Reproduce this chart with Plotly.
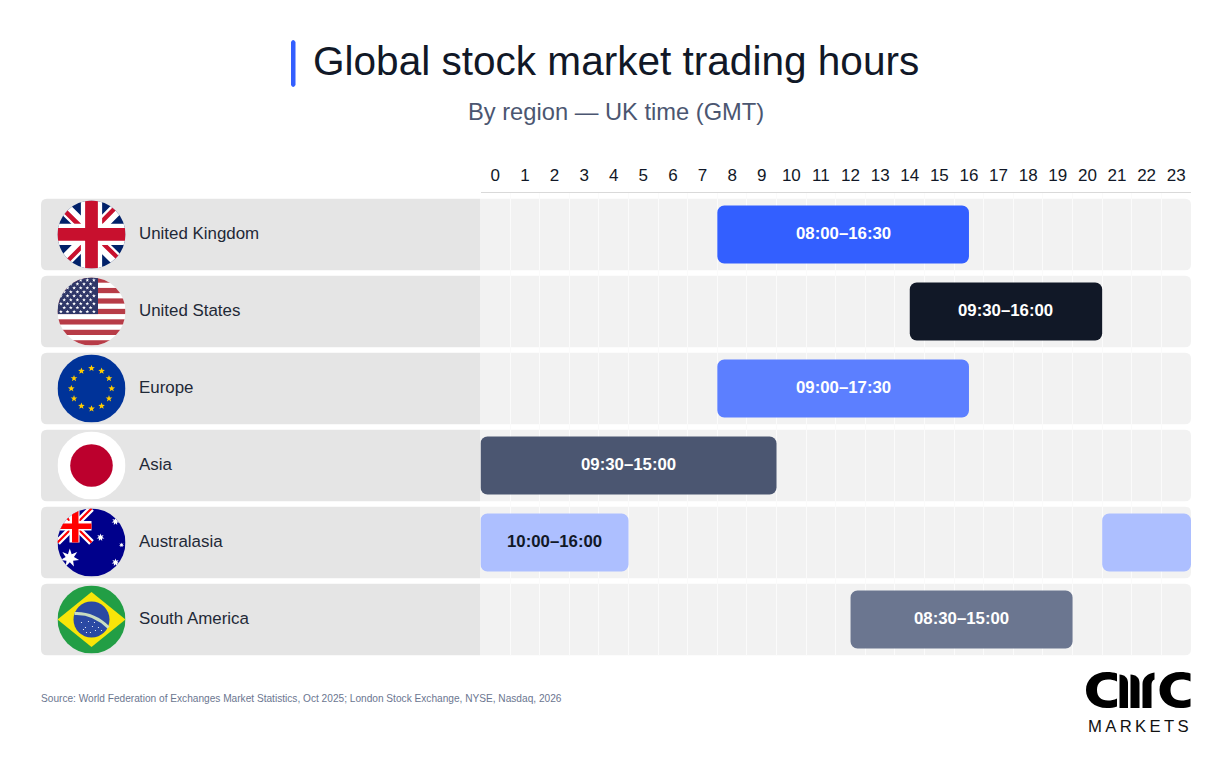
import base64
import math
import plotly.graph_objects as go

W, H = 1232, 774
FONT = "Liberation Sans"

TITLE = "Global stock market trading hours"
SUBTITLE = "By region — UK time (GMT)"
SOURCE = "Source: World Federation of Exchanges Market Statistics, Oct 2025; London Stock Exchange, NYSE, Nasdaq, 2026"

REGIONS = ["United Kingdom", "United States", "Europe", "Asia", "Australasia", "South America"]
HOURS = list(range(24))

# One entry per session, in UK hours. Australasia wraps past midnight, so it has two.
SESSION_REGIONS = ["United Kingdom", "United States", "Europe", "Asia", "Australasia", "Australasia", "South America"]
SESSION_START = [8, 14.5, 8, 0, 0, 21, 12.5]
SESSION_END = [16.5, 21, 16.5, 10, 5, 24, 20]
SESSION_LABELS = ["08:00–16:30", "09:30–16:00", "09:00–17:30", "09:30–15:00", "10:00–16:00", "", "08:30–15:00"]
SESSION_COLORS = ["#335FFF", "#111827", "#5C7FFF", "#4B5671", "#ADBFFF", "#ADBFFF", "#6B7690"]
SESSION_TEXT = ["#FFFFFF", "#FFFFFF", "#FFFFFF", "#FFFFFF", "#111827", "#111827", "#FFFFFF"]


def star(cx, cy, r, points=5, inner=0.42, fill="#fff"):
    pts = []
    for i in range(points * 2):
        rad = r if i % 2 == 0 else r * inner
        a = -math.pi / 2 + i * math.pi / points
        pts.append(f"{cx + rad * math.cos(a):.2f},{cy + rad * math.sin(a):.2f}")
    return f'<polygon points="{" ".join(pts)}" fill="{fill}"/>'


def uk_flag():
    return (
        '<g transform="scale(0.1328125)">'
        '<path fill="#012169" d="M0 0h512v512H0z"/>'
        '<path fill="#FFF" d="M512 0v64L322 256l190 187v69h-67L254 324 68 512H0v-68l186-187L0 74V0h62l192 190L440 0z"/>'
        '<path fill="#C8102E" d="m184 324 11 34L42 512H0v-3zm124-12 54 8 150 147v45zM512 0 320 196l-4-44L466 0zM0 1l193 189-59-8L0 49z"/>'
        '<path fill="#FFF" d="M176 0v512h160V0zM0 176v160h512V176z"/>'
        '<path fill="#C8102E" d="M0 208v96h512v-96zM208 0v512h96V0z"/>'
        '</g>'
    )


def us_flag():
    s = '<rect width="68" height="68" fill="#fff"/>'
    for i in range(7):
        y = i * 10.46
        s += f'<rect x="0" y="{y:.2f}" width="68" height="5.23" fill="#B73C47"/>'
    s += '<rect width="40.5" height="36.6" fill="#2F3768"/>'
    for r in range(9):
        for c in range(6 if r % 2 == 0 else 5):
            cx = 3.4 + c * 6.6 + (0 if r % 2 == 0 else 3.3)
            s += star(cx, 2.6 + r * 3.95, 2.0)
    return s


def eu_flag():
    s = '<rect width="68" height="68" fill="#003399"/>'
    for i in range(12):
        a = i * math.pi / 6
        s += star(34 + 20.2 * math.sin(a), 34 - 20.2 * math.cos(a), 3.5, fill="#FFCC00")
    return s


def jp_flag():
    return '<rect width="68" height="68" fill="#fff"/><circle cx="34" cy="34" r="21.3" fill="#BC002D"/>'


def au_flag():
    s = '<rect width="68" height="68" fill="#00008B"/>'
    s += '<path d="M0 0L34 34M0 34L34 0" stroke="#fff" stroke-width="6.5"/>'
    s += '<path d="M0 0L34 34M0 34L34 0" stroke="#F00" stroke-width="2.2"/>'
    s += '<rect x="12" y="0" width="10" height="34" fill="#fff"/><rect x="0" y="12.5" width="34" height="9.5" fill="#fff"/>'
    s += '<rect x="14.5" y="0" width="6.5" height="34" fill="#F00"/><rect x="0" y="15" width="34" height="5.5" fill="#F00"/>'
    s += star(12.3, 49.5, 9.5, 7, 0.45)
    s += star(43, 29, 4, 7, 0.45)
    s += star(58, 13, 4, 7, 0.45)
    s += star(64, 36.5, 2.6, 7, 0.45)
    s += star(58, 54, 4, 7, 0.45)
    return s


def br_flag():
    s = '<rect width="68" height="68" fill="#229E45"/>'
    s += '<path d="M34 6.5L68 34L34 61.5L0 34Z" fill="#F8E509"/>'
    s += '<circle cx="34" cy="34" r="18" fill="#2B49A3"/>'
    s += '<path d="M17 28Q36 27 51 42" fill="none" stroke="#C9DDC0" stroke-width="3"/>'
    for x, y in [(24, 37), (28, 42), (31, 36), (35, 41), (38, 45), (41, 42), (33, 47), (26, 44), (44, 45), (37, 37), (29, 47)]:
        s += f'<circle cx="{x}" cy="{y}" r="0.6" fill="#fff"/>'
    return s


FLAGS = [uk_flag, us_flag, eu_flag, jp_flag, au_flag, br_flag]


def svg_uri(body, w, h):
    svg = f'<svg xmlns="http://www.w3.org/2000/svg" width="{w}" height="{h}" viewBox="0 0 {w} {h}">{body}</svg>'
    return "data:image/svg+xml;base64," + base64.b64encode(svg.encode()).decode()


def flag_uri(fn):
    body = f'<defs><clipPath id="c"><circle cx="34" cy="34" r="34"/></clipPath></defs><g clip-path="url(#c)">{fn()}</g>'
    return svg_uri(body, 68, 68)


def logo_uri():
    # Wordmark: two heavy Cs with three curved strokes between them
    c = ("M31 1.5C28 0.5 25 0 21 0C8 0 0 8 0 18C0 28 8 36 21 36C25 36 28 35.5 31 34.500L31 26.5"
         "C28 28 25 28.5 22 28.5C15 28.5 11 24.500 11 18C11 11.500 15 7.500 22 7.500C25 7.500 28 8 31 9.500Z")
    body = (
        f'<path d="{c}" fill="#000"/>'
        '<path d="M33.500 2.500C38.500 2.500 42 6 42 11L42 36L33.500 36Z" fill="#000"/>'
        '<path d="M44.500 2.500C50 2.500 53.500 6 53.500 11L53.500 36L44.500 36Z" fill="#000"/>'
        '<path d="M56.500 36L56.500 12C56.500 6 62 1 68.500 0.5L68.500 7.500C66.500 8.500 65.500 10 65.500 13L65.500 36Z" fill="#000"/>'
        f'<path d="{c}" transform="translate(73.5 0)" fill="#000"/>'
    )
    return svg_uri(body, 105, 36)


def rounded_row(x0, x1, yc, half_h, left=False, right=False):
    """Path for a row panel, x in paper units and y in row units, with optional rounded ends."""
    rx = 6 / W
    ry = half_h * 6 / 35.75
    y0, y1 = yc - half_h, yc + half_h
    p = f"M{x0 + (rx if left else 0)},{y0} L{x1 - (rx if right else 0)},{y0} "
    if right:
        p += f"Q{x1},{y0} {x1},{y0 + ry} L{x1},{y1 - ry} Q{x1},{y1} {x1 - rx},{y1} "
    else:
        p += f"L{x1},{y1} "
    p += f"L{x0 + (rx if left else 0)},{y1} "
    if left:
        p += f"Q{x0},{y1} {x0},{y1 - ry} L{x0},{y0 + ry} Q{x0},{y0} {x0 + rx},{y0} "
    else:
        p += f"L{x0},{y0} "
    return p + "Z"


PANEL_L, PANEL_M, PANEL_R = 41 / W, 480 / W, 1191 / W
ROW_HALF = 0.465

shapes = []
images = []
annotations = []
for i, (region, fn) in enumerate(zip(REGIONS, FLAGS)):
    shapes.append(dict(type="path", xref="paper", yref="y", layer="below", line_width=0, fillcolor="#E5E5E5",
                       path=rounded_row(PANEL_L, PANEL_M, i, ROW_HALF, left=True)))
    shapes.append(dict(type="path", xref="paper", yref="y", layer="below", line_width=0, fillcolor="#F2F2F2",
                       path=rounded_row(PANEL_M, PANEL_R, i, ROW_HALF, right=True)))
    images.append(dict(source=flag_uri(fn), xref="paper", yref="y", x=57.5 / W, y=i, sizex=68 / W, sizey=68 / 77,
                       xanchor="left", yanchor="middle", sizing="stretch", layer="above"))
    annotations.append(dict(text=region, xref="paper", yref="y", x=137 / W, y=i, xanchor="left", yanchor="middle",
                            yshift=1, showarrow=False, font=dict(family=FONT, size=16.9, color="#1F2937")))

# Time range written across each session bar
for region, start, end, label, colour in zip(SESSION_REGIONS, SESSION_START, SESSION_END, SESSION_LABELS, SESSION_TEXT):
    if label:
        annotations.append(dict(text=label, xref="x", yref="y", x=(start + end) / 2, y=region, xanchor="center",
                                yanchor="middle", yshift=1, showarrow=False,
                                font=dict(family=FONT, size=16.8, color=colour, weight=700)))

# Accent rule beside the heading
shapes.append(dict(type="path", xref="paper", yref="paper", line_width=0, fillcolor="#335FFF",
                   path=f"M{291 / W},{1 - 42 / H} Q{293 / W},{1 - 38 / H} {295.5 / W},{1 - 42 / H} "
                        f"L{295.5 / W},{1 - 85 / H} Q{293 / W},{1 - 89 / H} {291 / W},{1 - 85 / H} Z"))

images.append(dict(source=logo_uri(), xref="paper", yref="paper", x=1086 / W, y=1 - 672 / H, sizex=105 / W, sizey=36 / H,
                   xanchor="left", yanchor="top", sizing="stretch", layer="above"))

annotations += [
    dict(text=TITLE, xref="paper", yref="paper", x=311 / W, y=1 - 61 / H, xanchor="left", yanchor="middle",
         showarrow=False, font=dict(family=FONT, size=40.55, color="#111827")),
    dict(text=SUBTITLE, xref="paper", yref="paper", x=616 / W, y=1 - 112 / H, xanchor="center", yanchor="middle",
         showarrow=False, font=dict(family=FONT, size=23.7, color="#4B5671")),
    dict(text=SOURCE, xref="paper", yref="paper", x=39 / W, y=1 - 698 / H, xanchor="left", yanchor="middle",
         showarrow=False, font=dict(family=FONT, size=10.15, color="#6B7690")),
    dict(text="M\u2009A\u2009R\u2009K\u2009E\u2009T\u2009S", xref="paper", yref="paper", x=1138.5 / W, y=1 - 726 / H,
         xanchor="center", yanchor="middle", showarrow=False, font=dict(family=FONT, size=16.7, color="#111111")),
]

fig = go.Figure(go.Bar(
    orientation="h",
    y=SESSION_REGIONS,
    base=SESSION_START,
    x=[e - s for s, e in zip(SESSION_START, SESSION_END)],
    width=0.753,
    marker=dict(color=SESSION_COLORS, cornerradius=7, line_width=0),
    hoverinfo="skip",
))

fig.update_layout(
    width=W, height=H,
    margin=dict(l=0, r=0, t=0, b=0),
    paper_bgcolor="#FFFFFF", plot_bgcolor="rgba(0,0,0,0)",
    barmode="overlay", showlegend=False,
    font=dict(family=FONT),
    shapes=shapes, images=images, annotations=annotations,
    xaxis=dict(
        domain=[480.5 / W, PANEL_R], range=[0, 24], side="top",
        tickmode="array", tickvals=[h + 0.5 for h in HOURS], ticktext=[str(h) for h in HOURS],
        tickfont=dict(family=FONT, size=17, color="#111827"), ticks="", ticklen=0, ticklabelstandoff=4,
        showgrid=False, zeroline=False, showline=True, linecolor="#D9D9D9", linewidth=1,
        minor=dict(dtick=1, tick0=0, showgrid=True, gridcolor="#FBFBFB", gridwidth=1, ticks=""),
    ),
    yaxis=dict(
        domain=[1 - 656 / H, 1 - 192.5 / H], type="category",
        categoryorder="array", categoryarray=REGIONS,
        range=[5.474, -0.545], showticklabels=False, showgrid=False, zeroline=False, ticks="",
    ),
)

fig.write_html("out.html")
